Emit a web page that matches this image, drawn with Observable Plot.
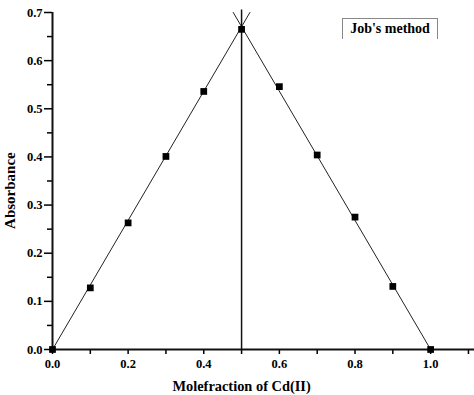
<!DOCTYPE html>
<html><head><meta charset="utf-8">
<script src="https://cdn.jsdelivr.net/npm/d3@7"></script>
<script src="https://cdn.jsdelivr.net/npm/@observablehq/plot@0.6"></script>
<style>
body{margin:0;background:#fff;}
#wrap{position:relative;width:474px;height:395px;}
#legend{position:absolute;left:342px;top:18px;width:94px;height:20px;border:1px solid #888;border-bottom:none;font:bold 14px "Liberation Serif",serif;text-align:center;line-height:20px;color:#000;}
</style></head><body>
<div id="wrap"><div id="legend">Job's method</div></div>
<script>
const moleFraction = [0, 0.1, 0.2, 0.3, 0.4, 0.5, 0.6, 0.7, 0.8, 0.9, 1.0];
const absorbance = [0, 0.128, 0.263, 0.401, 0.536, 0.665, 0.546, 0.404, 0.275, 0.131, 0.0];
const leftFitX = [0, 0.522];
const leftFitY = [0, 0.70];
const rightFitX = [0.478, 1.0];
const rightFitY = [0.70, 0];
const xTicks = [0, 0.2, 0.4, 0.6, 0.8, 1.0];
const xMinor = [0.1, 0.3, 0.5, 0.7, 0.9, 1.1];
const yTicks = [0, 0.1, 0.2, 0.3, 0.4, 0.5, 0.6, 0.7];
const yMinor = [0.05, 0.15, 0.25, 0.35, 0.45, 0.55, 0.65];

const pts = moleFraction.map((x, i) => ({x, y: absorbance[i]}));
const leftFit = leftFitX.map((x, i) => ({x, y: leftFitY[i]}));
const rightFit = rightFitX.map((x, i) => ({x, y: rightFitY[i]}));

const chart = Plot.plot({
  width: 474, height: 395,
  marginLeft: 52, marginRight: 0, marginTop: 12, marginBottom: 46,
  style: {fontFamily: '"Liberation Serif", serif', fontWeight: "bold", fontSize: "12.5px", color: "#000", background: "transparent"},
  x: {domain: [0, 1.116]},
  y: {domain: [0, 0.7]},
  marks: [
    Plot.axisX({ticks: xTicks, tickFormat: d3.format(".1f"), tickSize: 5, tickPadding: 5, label: null, strokeWidth: 1.5}),
    Plot.axisX({ticks: xMinor, tickFormat: () => "", tickSize: 5, label: null, strokeWidth: 1.5}),
    Plot.axisY({ticks: yTicks, tickFormat: d3.format(".1f"), tickSize: 8, tickPadding: 2, label: null, strokeWidth: 1.5}),
    Plot.axisY({ticks: yMinor, tickFormat: () => "", tickSize: 5, label: null, strokeWidth: 1.5}),
    Plot.line(leftFit, {x: "x", y: "y", stroke: "#222", strokeWidth: 1, clip: false}),
    Plot.line(rightFit, {x: "x", y: "y", stroke: "#222", strokeWidth: 1, clip: false}),
    Plot.ruleX([0.5], {y1: 0, y2: 0.705, stroke: "#111", strokeWidth: 1.5}),
    Plot.ruleY([0], {stroke: "#111", strokeWidth: 2}),
    Plot.ruleX([0], {stroke: "#111", strokeWidth: 2}),
    Plot.dot(pts, {x: "x", y: "y", symbol: "square", r: 3.8, fill: "#000", stroke: "none"}),
    Plot.text(["Molefraction of Cd(II)"], {frameAnchor: "bottom", dy: 41, fontSize: 14.4, fontWeight: "bold", x: 0.5}),
    Plot.text(["Absorbance"], {frameAnchor: "left", textAnchor: "middle", dx: -42, rotate: -90, fontSize: 15, fontWeight: "bold", y: 0.33})
  ]
});
document.getElementById("wrap").prepend(chart);
</script>
</body></html>
